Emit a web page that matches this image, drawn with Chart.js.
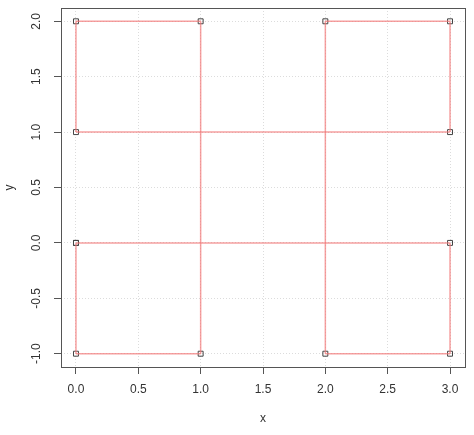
<!DOCTYPE html>
<html>
<head>
<meta charset="utf-8">
<script src="https://cdn.jsdelivr.net/npm/chart.js@4"></script>
<style>
  body { margin: 0; background: #fff; }
</style>
</head>
<body>
<canvas id="c" width="474" height="435"></canvas>
<script>
// segment ends, one pair per red line
const segX = [[0, 1], [2, 3], [0, 3], [0, 3], [0, 1], [2, 3], [0, 0], [0, 0], [1, 1], [2, 2], [3, 3], [3, 3]]
const segY = [[2, 2], [2, 2], [1, 1], [0, 0], [-1, -1], [-1, -1], [2, 1], [0, -1], [2, -1], [2, -1], [2, 1], [0, -1]]

// square markers (0,0 is plotted twice)
const ptX = [0, 1, 2, 3, 0, 3, 0, 0, 3, 0, 1, 2, 3]
const ptY = [2, 2, 2, 2, 1, 1, 0, 0, 0, -1, -1, -1, -1]

const xTicks = [0, 0.5, 1, 1.5, 2, 2.5, 3]
const yTicks = [-1, -0.5, 0, 0.5, 1, 1.5, 2]

const FONT = 'Liberation Sans, Arial, sans-serif'
const INK = '#333'

function build () {
  const datasets = segX.map((xs, i) => ({
    type: 'line',
    data: xs.map((x, j) => ({ x: x, y: segY[i][j] })),
    borderColor: 'rgba(242, 120, 120, 0.7)',
    borderWidth: 1.5,
    pointRadius: 0,
    fill: false
  }))
  datasets.push({
    type: 'scatter',
    data: ptX.map((x, i) => ({ x: x, y: ptY[i] })),
    pointStyle: 'rect',
    pointRadius: 3.5,
    borderColor: '#444',
    borderWidth: 1,
    backgroundColor: 'rgba(0,0,0,0)'
  })

  // box round the plot and rotated y labels, R style
  const rPlot = {
    id: 'rPlot',
    afterDraw (chart) {
      const ctx = chart.ctx
      const a = chart.chartArea
      ctx.save()
      ctx.strokeStyle = '#555'
      ctx.lineWidth = 1
      ctx.strokeRect(a.left + 0.5, a.top + 0.5, a.right - a.left, a.bottom - a.top)
      const ys = chart.scales.y
      ctx.fillStyle = INK
      ctx.font = '12px ' + FONT
      ctx.textAlign = 'center'
      ctx.textBaseline = 'middle'
      yTicks.forEach(v => {
        ctx.save()
        ctx.translate(37, ys.getPixelForValue(v))
        ctx.rotate(-Math.PI / 2)
        ctx.fillText(v.toFixed(1), 0, 0)
        ctx.restore()
      })
      ctx.save()
      ctx.translate(10, (a.top + a.bottom) / 2)
      ctx.rotate(-Math.PI / 2)
      ctx.fillText('y', 0, 0)
      ctx.restore()
      ctx.fillText('x', (a.left + a.right) / 2, 419)
      ctx.restore()
    }
  }

  const gridOpts = {
    color: '#dcdcdc',
    lineWidth: 1,
    tickColor: '#555',
    tickLength: 7,
    tickBorderDash: []
  }

  new Chart(document.getElementById('c').getContext('2d'), {
    type: 'scatter',
    data: { datasets: datasets },
    options: {
      responsive: false,
      animation: false,
      layout: { padding: { top: 8, right: 9, left: 0, bottom: 0 } },
      plugins: { legend: { display: false }, tooltip: { enabled: false } },
      scales: {
        x: {
          type: 'linear',
          min: -0.12,
          max: 3.12,
          afterBuildTicks: s => { s.ticks = xTicks.map(v => ({ value: v })) },
          afterFit: s => { s.height = 68 },
          grid: gridOpts,
          border: { display: false, dash: [1, 2] },
          ticks: {
            padding: 8,
            color: INK,
            font: { family: FONT, size: 12 },
            callback: v => v.toFixed(1),
            maxRotation: 0
          }
        },
        y: {
          type: 'linear',
          min: -1.12,
          max: 2.12,
          afterBuildTicks: s => { s.ticks = yTicks.map(v => ({ value: v })) },
          afterFit: s => { s.width = 61 },
          grid: gridOpts,
          border: { display: false, dash: [1, 2] },
          ticks: { display: false }
        }
      }
    },
    plugins: [rPlot]
  })
}

build()
</script>
</body>
</html>
